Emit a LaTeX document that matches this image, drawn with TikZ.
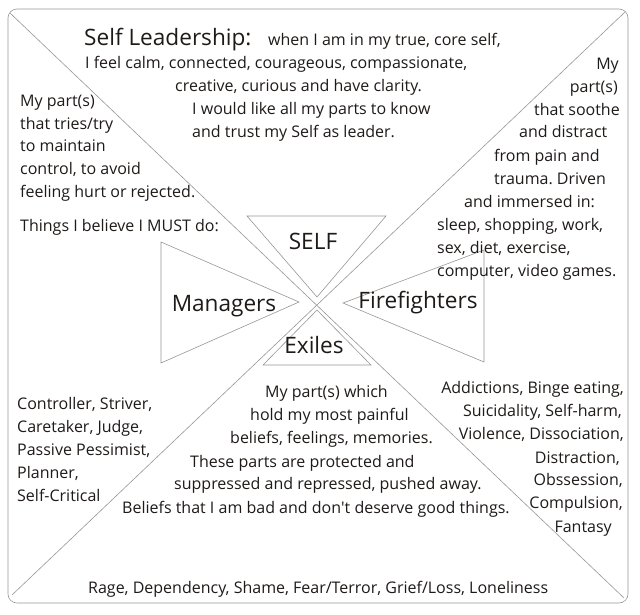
\documentclass[tikz,border=0pt]{standalone}
\usepackage{fontspec}
\setmainfont{Open Sans}
\usetikzlibrary{positioning}
\definecolor{ink}{RGB}{30,26,24}
\definecolor{rule}{RGB}{150,150,150}
\frenchspacing

\begin{document}
\begin{tikzpicture}[x=1pt,y=-1pt,
  txt/.style={font=\fontsize{16}{18}\selectfont,text=ink,inner sep=0pt,anchor=base west},
  txtr/.style={txt,anchor=base east},
  big/.style={font=\fontsize{22.6}{26}\selectfont,text=ink,inner sep=0pt},
  thin/.style={draw=rule,line width=0.6pt}]
\useasboundingbox (0,0) rectangle (640,614);
\draw[thin,rounded corners=9pt] (8,9) rectangle (628,603);
% diagonals
\coordinate (tl) at (10,13);
\coordinate (br) at (624,598);
\coordinate (tr) at (625,12);
\coordinate (bl) at (12,595);
\draw[thin] (tl)--(br);
\draw[thin] (tr)--(bl);
% triangles
\draw[thin] (247,216)--(386,216)--(317,297)--cycle;
\draw[thin] (161,242)--(161,363)--(299,302)--cycle;
\draw[thin] (484,250)--(484,362)--(343,303)--cycle;
\draw[thin] (263,365)--(371,365)--(317,310)--cycle;
\node[big](self) at (313,241){SELF};
\node[big](mgr) at (224,306){Managers};
\node[big](ff) at (418,303){Firefighters};
\node[big](ex) at (314,345){Exiles};

% self leadership
\node[big,anchor=base west](lead) at (84,45){Self Leadership:};
\node[txt](s0) at (268,45){when I am in my true, core self,};
\node[txt](s1) at (85,68){I feel calm, connected, courageous, compassionate,};
\node[txt](s2) at (175,91){creative, curious and have clarity.};
\node[txt](s3) at (192,114){I would like all my parts to know};
\node[txt](s4) at (192,137){and trust my Self as leader.};

% managers
\node[txt](m1) at (20,106){My part(s)};
\node[txt](m2) at (20,129){that tries/try};
\node[txt](m3) at (20,151){to maintain};
\node[txt](m4) at (20,174){control, to avoid};
\node[txt](m5) at (20,197){feeling hurt or rejected.};
\node[txt](m6) at (20,231){Things I believe I MUST do:};
\node[txt](m7) at (17,409){Controller, Striver,};
\node[txt](m8) at (17,432){Caretaker, Judge,};
\node[txt](m9) at (17,455){Passive Pessimist,};
\node[txt](m10) at (17,478){Planner,};
\node[txt](m11) at (17,501){Self-Critical};

% firefighters
\node[txtr](f1) at (619,69){My};
\node[txtr](f2) at (618,92){part(s)};
\node[txtr](f3) at (620,115){that soothe};
\node[txt](f4) at (519,137){and distract};
\node[txt](f5) at (494,161){from pain and};
\node[txt](f6) at (494,184){trauma. Driven};
\node[txt](f7) at (464,207){and immersed in:};
\node[txt](f8) at (437,230){sleep, shopping, work,};
\node[txt](f9) at (437,253){sex, diet, exercise,};
\node[txt](f10) at (437,276){computer, video games.};
\node[txtr](f11) at (624,393){Addictions, Binge eating,};
\node[txtr](f12) at (622,416){Suicidality, Self-harm,};
\node[txtr](f13) at (624,439){Violence, Dissociation,};
\node[txtr](f14) at (620,463){Distraction,};
\node[txtr](f15) at (623,485){Obssession,};
\node[txtr](f16) at (623,508){Compulsion,};
\node[txtr](f17) at (612,532){Fantasy};

% exiles
\node[txt](e1) at (265,397){My part(s) which};
\node[txt](e2) at (250,420){hold my most painful};
\node[txt](e3) at (230,443){beliefs, feelings, memories.};
\node[txt](e4) at (190,467){These parts are protected and};
\node[txt](e5) at (174,489){suppressed and repressed, pushed away.};
\node[txt](e6) at (122,513){Beliefs that I am bad and don\textquotesingle t deserve good things.};
\node[txt](e7) at (88,593){Rage, Dependency, Shame, Fear/Terror, Grief/Loss, Loneliness};
\end{tikzpicture}
\end{document}
